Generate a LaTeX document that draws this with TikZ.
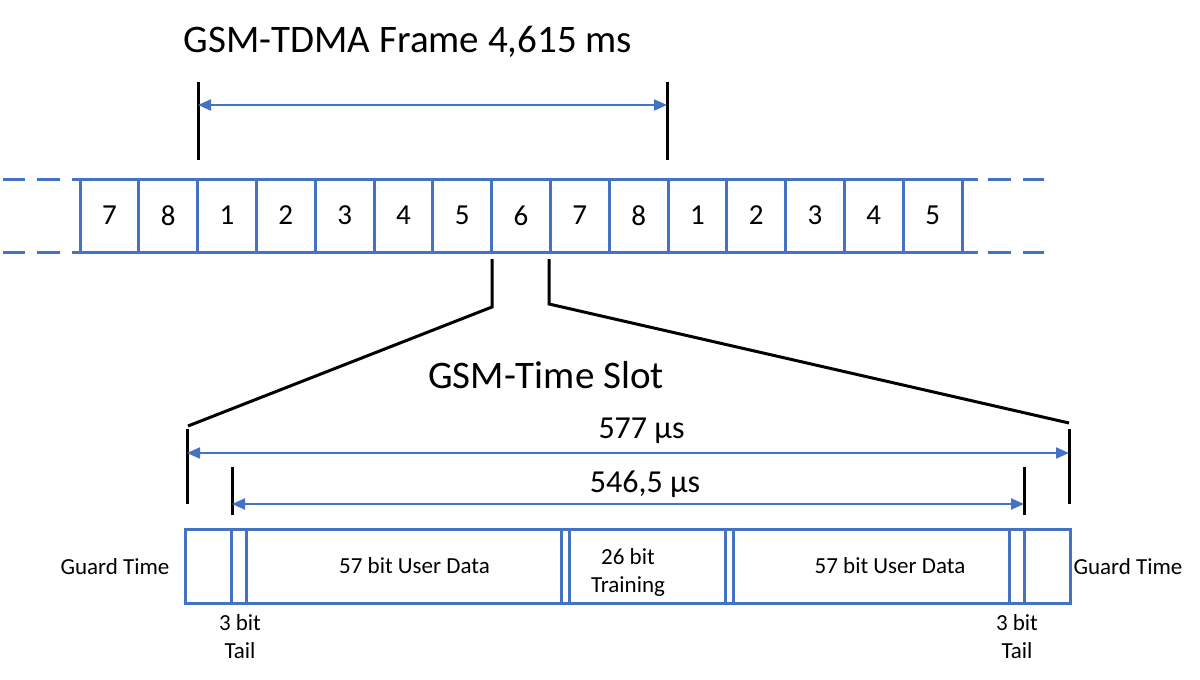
\documentclass[tikz,border=0pt]{standalone}
\usepackage{fontspec}
\setmainfont{Carlito}
\usetikzlibrary{arrows.meta}
\definecolor{oblue}{HTML}{4472C4}
\begin{document}
\begin{tikzpicture}[x=0.5pt,y=-0.5pt,
  cell/.style={draw=oblue,line width=1.5pt,minimum width=29.4pt,minimum height=36.5pt,inner sep=0pt,font=\fontsize{14.5}{17}\selectfont},
  seg/.style={draw=oblue,line width=1.5pt,minimum height=37pt,inner sep=0pt},
  blueline/.style={draw=oblue,line width=1.5pt},
  dimarrow/.style={draw=oblue,line width=1pt,{Triangle[length=6.5pt,width=5.5pt]}-{Triangle[length=6.5pt,width=5.5pt]}},
  tick/.style={draw=black,line width=1.5pt},
  titletext/.style={font=\fontsize{19.5}{23}\selectfont,anchor=base,inner sep=0pt},
  dimlabel/.style={font=\fontsize{16}{19}\selectfont,anchor=base,inner sep=0pt},
  smalltext/.style={font=\fontsize{11.5}{14}\selectfont,align=center,inner sep=0pt}]
\useasboundingbox (0,0) rectangle (1200,680);

% ---- titles
\node[titletext] (ftitle) at (408,52) {GSM-TDMA Frame 4,615 ms};
\node[titletext] (stitle) at (546,388) {GSM-Time Slot};

% ---- frame cells
\foreach \n [count=\i] in {7,8,1,2,3,4,5,6,7,8,1,2,3,4,5}
  \node[cell] (c\i) at ({80+58.8*(\i-0.5)},215.5) {\n};

% continuation lines
\coordinate (tl0) at (72,179); \coordinate (tr0) at (978,179);
\coordinate (bl0) at (72,252); \coordinate (br0) at (978,252);
\draw[blueline] (tl0) -- (tr0);
\draw[blueline] (bl0) -- (br0);
\foreach \y in {179,252}{
  \draw[blueline] (3,\y) -- (25,\y);
  \draw[blueline] (37,\y) -- (60,\y);
  \draw[blueline] (988,\y) -- (1011,\y);
  \draw[blueline] (1023,\y) -- (1044,\y);
}

% ---- frame dimension
\coordinate (fa1) at (198,82);  \coordinate (fa2) at (198,160);
\coordinate (fb1) at (667,82);  \coordinate (fb2) at (667,160);
\draw[tick] (fa1) -- (fa2);
\draw[tick] (fb1) -- (fb2);
\coordinate (fda) at (198,105); \coordinate (fdb) at (667,105);
\draw[dimarrow] (fda) -- (fdb);

% ---- zoom lines from slot 6
\coordinate (z1a) at (492,259); \coordinate (z1b) at (492,307);
\coordinate (z2a) at (549,259); \coordinate (z2b) at (549,304);
\coordinate (z1c) at (188,426); \coordinate (z2c) at (1069,423);
\draw[tick] (z1a) -- (z1b) -- (z1c);
\draw[tick] (z2a) -- (z2b) -- (z2c);

% ---- slot dimension ticks
\coordinate (sa1) at (187,429);  \coordinate (sa2) at (187,504);
\coordinate (sb1) at (1069,429); \coordinate (sb2) at (1069,504);
\draw[tick] (sa1) -- (sa2);
\draw[tick] (sb1) -- (sb2);
\coordinate (ua1) at (232,467);  \coordinate (ua2) at (232,515);
\coordinate (ub1) at (1024,467); \coordinate (ub2) at (1024,515);
\draw[tick] (ua1) -- (ua2);
\draw[tick] (ub1) -- (ub2);

\coordinate (d1a) at (187,453); \coordinate (d1b) at (1069,453);
\draw[dimarrow] (d1a) -- (d1b);
\coordinate (d2a) at (232,504); \coordinate (d2b) at (1024,504);
\draw[dimarrow] (d2a) -- (d2b);
\node[dimlabel] (l577) at (641.5,438) {577 µs};
\node[dimlabel] (l546) at (645,492) {546,5 µs};

% ---- slot segments
\node[seg,minimum width=23pt]   (g1) at (208,566) {};
\node[seg,minimum width=7.5pt]  (t1) at (238.5,566) {};
\node[seg,minimum width=157.5pt](da1) at (403.5,566) {};
\node[seg,minimum width=4pt]    (s1) at (565,566) {};
\node[seg,minimum width=78pt]   (tr) at (647,566) {};
\node[seg,minimum width=4pt]    (s2) at (729,566) {};
\node[seg,minimum width=138pt]  (da2) at (871,566) {};
\node[seg,minimum width=7.5pt]  (t2) at (1016.5,566) {};
\node[seg,minimum width=23pt]   (g2) at (1047,566) {};

% ---- slot labels
\node[smalltext,anchor=base] (ld1) at (414.5,573) {57 bit User Data};
\node[smalltext,anchor=base] (ld2) at (890,573) {57 bit User Data};
\node[smalltext] (ltr) at (628,572) {26 bit\\Training};
\node[smalltext,anchor=base] (lg1) at (115,574) {Guard Time};
\node[smalltext,anchor=base] (lg2) at (1128,574) {Guard Time};
\node[smalltext] (lt1) at (240,637) {3 bit\\Tail};
\node[smalltext] (lt2) at (1017,637) {3 bit\\Tail};
\end{tikzpicture}
\end{document}
